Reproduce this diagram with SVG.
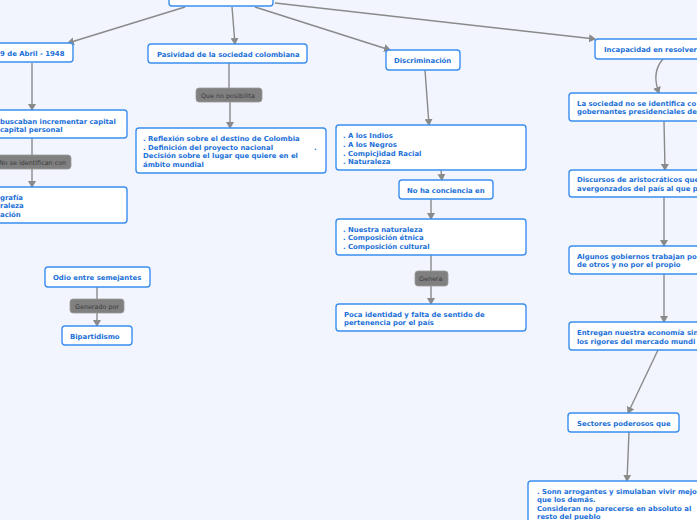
<svg xmlns="http://www.w3.org/2000/svg" width="697" height="520" viewBox="0 0 697 520">
<defs>
<marker id="a" markerWidth="8" markerHeight="8" refX="6" refY="4" orient="auto" markerUnits="userSpaceOnUse"><path d="M0,0 L7,4 L0,8 z" fill="#8a8a8a"/></marker>
<style>
.n{fill:#fff;stroke:#3a8ef0;stroke-width:1.4}
.t{font-family:"DejaVu Sans",Verdana,sans-serif;font-size:6.9px;font-weight:bold;fill:#1a6fd8}
.l{fill:#808080;stroke:#9a9a9a;stroke-width:0.8}
.lt{font-family:"DejaVu Sans",sans-serif;font-size:6.4px;fill:#3a3a3a}
.e{stroke:#8a8a8a;stroke-width:1.4;fill:none;marker-end:url(#a)}
.p{stroke:#8a8a8a;stroke-width:1.4;fill:none}
</style>
</defs>
<rect width="697" height="520" fill="#f2f5fe"/>
<g id="connectors">
<path class="e" d="M185,7 L68,43"/>
<path class="e" d="M232,7 L235,44"/>
<path class="e" d="M255,7 L390,50"/>
<path class="e" d="M275,3 L595,39"/>
<path class="e" d="M32,63 L32,110"/>
<path class="p" d="M32,138 L32,155"/><path class="e" d="M32,169 L32,187"/>
<path class="p" d="M229,63 L229,88"/><path class="e" d="M230,102 L230,128"/>
<path class="p" d="M97,287 L97,299"/><path class="e" d="M97,313 L97,326"/>
<path class="e" d="M425,70 L429,125"/>
<path class="e" d="M441,170 L442,180"/>
<path class="e" d="M431,199 L431,219"/>
<path class="p" d="M431,255 L431,271"/><path class="e" d="M431,286 L431,304"/>
<path class="e" d="M663,59 C655,68 654,80 659,93"/>
<path class="e" d="M664,121 L665,170"/>
<path class="e" d="M664,197 L664,246"/>
<path class="e" d="M664,274 L664,322"/>
<path class="e" d="M658,350 L628,413"/>
<path class="e" d="M629,432 L627,481"/>
</g>
<g id="root"><rect class="n" x="169" y="-10" width="104" height="16" rx="3"/></g>
<g id="n1"><rect class="n" x="-10" y="43" width="83" height="19" rx="3"/><text class="t" x="0" y="56">9 de Abril - 1948</text></g>
<g id="n2"><rect class="n" x="148" y="44" width="159" height="19" rx="3"/><text class="t" x="157" y="57">Pasividad de la sociedad colombiana</text></g>
<g id="l1"><rect class="l" x="196" y="88" width="66" height="14" rx="3"/><text class="lt" x="201" y="98">Que no posibilita</text></g>
<g id="n3"><rect class="n" x="136" y="128" width="190" height="45" rx="3"/><text class="t" x="143" y="141">. Reflexión sobre el destino de Colombia</text><text class="t" x="143" y="150">. Definición del proyecto nacional</text><text class="t" x="314" y="150">.</text><text class="t" x="143" y="158">Decisión sobre el lugar que quiere en el</text><text class="t" x="143" y="167">ámbito mundial</text></g>
<g id="n4"><rect class="n" x="-10" y="110" width="137" height="28" rx="3"/><text class="t" x="0" y="124">buscaban incrementar capital</text><text class="t" x="0" y="132">capital personal</text></g>
<g id="l2"><rect class="l" x="-10" y="155" width="81" height="14" rx="3"/><text class="lt" x="-1" y="165">No se identifican con</text></g>
<g id="n5"><rect class="n" x="-10" y="187" width="137" height="36" rx="3"/><text class="t" x="0" y="200">grafía</text><text class="t" x="0" y="208">raleza</text><text class="t" x="0" y="217">ación</text></g>
<g id="n6"><rect class="n" x="45" y="267" width="105" height="20" rx="3"/><text class="t" x="53" y="280">Odio entre semejantes</text></g>
<g id="l3"><rect class="l" x="70" y="299" width="54" height="14" rx="3"/><text class="lt" x="75" y="309">Generado por</text></g>
<g id="n7"><rect class="n" x="62" y="326" width="70" height="19" rx="3"/><text class="t" x="70" y="339">Bipartidismo</text></g>
<g id="n8"><rect class="n" x="386" y="50" width="74" height="20" rx="3"/><text class="t" x="394" y="63">Discriminación</text></g>
<g id="n9"><rect class="n" x="336" y="125" width="190" height="45" rx="3"/><text class="t" x="343" y="138">. A los Indios</text><text class="t" x="343" y="147">. A los Negros</text><text class="t" x="343" y="156">. Compicjidad Racial</text><text class="t" x="343" y="164">. Naturaleza</text></g>
<g id="n10"><rect class="n" x="399" y="180" width="94" height="19" rx="3"/><text class="t" x="407" y="193">No ha conciencia en</text></g>
<g id="n11"><rect class="n" x="336" y="219" width="190" height="36" rx="3"/><text class="t" x="343" y="232">. Nuestra naturaleza</text><text class="t" x="343" y="240">. Composición étnica</text><text class="t" x="343" y="249">. Composición cultural</text></g>
<g id="l4"><rect class="l" x="415" y="271" width="33" height="15" rx="3"/><text class="lt" x="419" y="281">Genera</text></g>
<g id="n12"><rect class="n" x="336" y="304" width="190" height="27" rx="3"/><text class="t" x="344" y="317">Poca identidad y falta de sentido de</text><text class="t" x="344" y="325">pertenencia por el país</text></g>
<g id="n13"><rect class="n" x="595" y="39" width="110" height="20" rx="3"/><text class="t" x="604" y="52">Incapacidad en resolver</text></g>
<g id="n14"><rect class="n" x="569" y="93" width="140" height="28" rx="3"/><text class="t" x="577" y="106">La sociedad no se identifica co</text><text class="t" x="577" y="114">gobernantes presidenciales de</text></g>
<g id="n15"><rect class="n" x="569" y="170" width="140" height="27" rx="3"/><text class="t" x="577" y="182">Discursos de aristocráticos que</text><text class="t" x="577" y="191">avergonzados del país al que p</text></g>
<g id="n16"><rect class="n" x="569" y="246" width="140" height="28" rx="3"/><text class="t" x="577" y="259">Algunos gobiernos trabajan po</text><text class="t" x="577" y="267">de otros y no por el propio</text></g>
<g id="n17"><rect class="n" x="569" y="322" width="140" height="28" rx="3"/><text class="t" x="577" y="335">Entregan nuestra economía sin</text><text class="t" x="577" y="344">los rigores del mercado mundi</text></g>
<g id="n18"><rect class="n" x="568" y="413" width="111" height="19" rx="3"/><text class="t" x="577" y="426">Sectores poderosos que</text></g>
<g id="n19"><rect class="n" x="528" y="481" width="180" height="50" rx="3"/><text class="t" x="537" y="494">. Sonn arrogantes y simulaban vivir mejo</text><text class="t" x="537" y="502">que los demás.</text><text class="t" x="537" y="511">Consideran no parecerse en absoluto al</text><text class="t" x="537" y="519">resto del pueblo</text></g>
</svg>
